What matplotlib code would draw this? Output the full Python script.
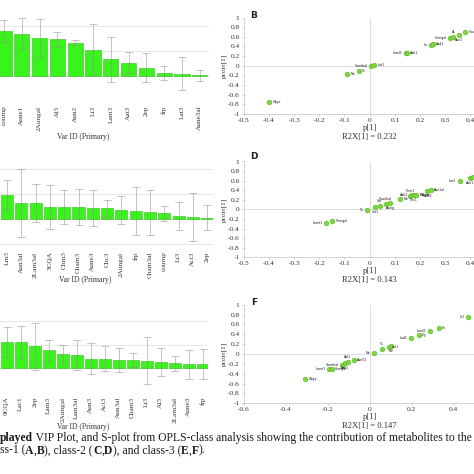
import matplotlib
matplotlib.use("Agg")
import matplotlib.pyplot as plt

# ---------------- data ----------------
a_names = ["coump", "Aune1", "2Aungal", "Al3", "Aun2", "Lt3", "Lam3", "Aat3", "2ep", "frp", "Lat3", "Aune3al"]
a_vip = [1.79, 1.68, 1.50, 1.46, 1.31, 1.04, 0.66, 0.51, 0.32, 0.12, 0.08, 0.02]
a_err = [0.44, 0.63, 0.75, 0.30, 0.10, 1.03, 0.90, 0.42, 0.58, 0.28, 0.66, 0.22]

c_names = ["Lm3", "Aun3al", "2Lam3al", "3CQA", "Chm3", "Cham3", "Aune3", "Chc3", "2Aungal", "frp",
           "Cham3al", "coump", "Lt3", "Aci3", "2ep"]
c_vip = [0.94, 0.63, 0.61, 0.48, 0.47, 0.45, 0.41, 0.41, 0.35, 0.32, 0.25, 0.21, 0.11, 0.07, 0.04]
c_err = [0.61, 1.35, 0.76, 0.88, 0.68, 0.72, 0.72, 0.33, 0.56, 0.96, 0.91, 0.31, 0.57, 0.97, 0.49]

e_names = ["9CQA", "Lac1", "2ep", "Lam3", "2Aungal", "Lam3al", "Aun3", "Aci3", "Aun3al", "Cham3",
           "Lt3", "Al3", "2Lam3al", "Aune3", "frp"]
e_vip = [1.11, 1.09, 0.92, 0.75, 0.60, 0.57, 0.40, 0.40, 0.35, 0.35, 0.31, 0.27, 0.20, 0.16, 0.16]
e_err = [0.63, 0.68, 1.00, 0.45, 0.40, 0.63, 0.67, 0.53, 0.52, 0.29, 1.00, 0.60, 0.33, 0.60, 0.64]

b_p = [-0.398, -0.090, -0.044, 0.005, 0.016, 0.144, 0.148, 0.245, 0.251, 0.320, 0.331, 0.356, 0.380]
b_pcorr = [-0.75, -0.174, -0.104, -0.007, 0.014, 0.255, 0.259, 0.430, 0.444, 0.570, 0.590, 0.646, 0.694]
b_labels = ["Wrga", "Na", "Tu", "Saaribal", "Lat1", "Laml1", "Aab1", "La", "Aad1", "Chmgal", "Al", "Aun1", "Cou"]
b_side = ["r", "r", "r", "l", "r", "l", "r", "l", "r", "l", "t", "b", "r"]

d_p = [-0.172, -0.149, -0.011, 0.020, 0.040, 0.063, 0.082, 0.122, 0.161, 0.168, 0.175, 0.185,
       0.228, 0.243, 0.357, 0.397, 0.410]
d_pcorr = [-0.279, -0.244, -0.021, 0.049, 0.077, 0.118, 0.139, 0.209, 0.272, 0.293, 0.307, 0.307,
           0.376, 0.397, 0.592, 0.662, 0.676]
d_labels = ["Lamt1", "Chmgal", "Tu", "Lat1", "Sar", "Saaribal", "Aiang", "Na", "Chm1", "Aab1", "Chc1",
            "Wrga", "Laml1", "Aun1al", "Lat3", "Aun1", "Cou"]
d_side = ["l", "r", "l", "b", "t", "t", "b", "r", "t", "l", "b", "r", "b", "r", "l", "b", "r"]

f_p = [-0.308, -0.192, -0.181, -0.130, -0.116, -0.105, -0.076, 0.019, 0.059, 0.090, 0.103,
       0.198, 0.233, 0.286, 0.329, 0.468]
f_pcorr = [-0.507, -0.311, -0.297, -0.223, -0.189, -0.169, -0.128, 0.027, 0.095, 0.149, 0.169,
           0.324, 0.378, 0.459, 0.527, 0.757]
f_labels = ["Wrga", "Lamt1", "Chmgal", "Saaribal", "Aab1", "Aal1", "Aun01", "Na", "Tu", "Lat1", "Nd",
            "Lad1", "Fig", "Laml1", "Ch", "Lt1"]
f_side = ["r", "l", "r", "l", "b", "t", "r", "l", "t", "r", "b", "l", "r", "l", "r", "l"]

b_r2x = "R2X[1] = 0.232"
d_r2x = "R2X[1] = 0.143"
f_r2x = "R2X[1] = 0.147"

# ---------------- figure ----------------
W = H = 474
fig = plt.figure(figsize=(4.74, 4.74), dpi=100)
fig.patch.set_facecolor("white")
SERIF = ["Liberation Serif", "DejaVu Serif"]


def add_ax(l, t, r, b):
    return fig.add_axes([l / W, 1 - b / H, (r - l) / W, (b - t) / H])


def ftext(x, y, s, **kw):
    return fig.text(x / W, 1 - y / H, s, **kw)


BAR_C = "#3af21c"
BAR_E = "#2cc214"


def vip_panel(names, vals, errs, c0, step, right, base, bottom_units, width):
    n = len(names)
    xl = -0.6
    xr = (right - c0) / step
    left = c0 + step * xl
    top = base - 2.5 * 25
    bottom = base + bottom_units * 25
    ax = add_ax(left, top, right, bottom)
    idx = list(range(n))
    ax.bar(idx, vals, width=width, color=BAR_C, edgecolor=BAR_E, linewidth=0.4, zorder=2)
    ax.errorbar(idx, vals, yerr=errs, fmt="none", ecolor="#8c8c8c", elinewidth=0.6,
                capsize=2.8, capthick=0.6, alpha=0.6, zorder=3)
    ax.set_xlim(xl, xr)
    ax.set_ylim(-bottom_units, 2.5)
    ax.set_yticks([-1, 0, 1, 2])
    ax.yaxis.grid(True, color="#e4e4e4", linewidth=0.6, zorder=0)
    ax.axhline(0, color="#d0d0d0", linewidth=0.6, zorder=1)
    ax.set_axisbelow(True)
    for s in ax.spines.values():
        s.set_visible(False)
    ax.set_xticks(idx)
    ax.set_xticklabels(names, rotation=90, fontsize=5.2, family=SERIF, color="#3a3a3a")
    ax.tick_params(axis="x", length=0, pad=3.5)
    ax.tick_params(axis="y", length=0, labelleft=False)
    return ax


vip_panel(a_names, a_vip, a_err, 4.0, 17.8, 208.7, 75.7, 1.0, 0.86)
vip_panel(c_names, c_vip, c_err, 7.0, 14.3, 213.0, 218.7, 1.12, 0.84)
vip_panel(e_names, e_vip, e_err, 6.7, 14.0, 208.0, 371.7, 0.8, 0.88)

ftext(83, 137, "Var ID (Primary)", fontsize=5.5, family=SERIF, ha="center", va="center", color="#333333")
ftext(85, 280, "Var ID (Primary)", fontsize=5.5, family=SERIF, ha="center", va="center", color="#333333")
ftext(83, 427, "Var ID (Primary)", fontsize=5.5, family=SERIF, ha="center", va="center", color="#333333")

PT_C = "#7bd63c"
PT_E = "#5fb82a"


def splot(ps, pcs, labels, sides, xlim, xticks, top, bottom, letter, letter_y, p_y, r2x):
    ax = add_ax(243.7, top, 495.7, bottom)
    ax.set_xlim(*xlim)
    ax.set_ylim(-1, 1)
    ax.axhline(0, color="#dddddd", linewidth=0.7, zorder=1)
    ax.axvline(0, color="#dddddd", linewidth=0.7, zorder=1)
    ax.plot(ps, pcs, "o", markersize=3.4, markerfacecolor=PT_C, markeredgecolor=PT_E,
            markeredgewidth=0.4, zorder=3)
    off = {"r": (2.5, 0, "left", "center"), "l": (-2.5, 0, "right", "center"),
           "t": (0, 2.2, "center", "bottom"), "b": (0, -2.2, "center", "top")}
    for x, y, lab, sd in zip(ps, pcs, labels, sides):
        dx, dy, ha, va = off[sd]
        ax.annotate(lab, (x, y), xytext=(dx, dy), textcoords="offset points", fontsize=2.3,
                    ha=ha, va=va, color="#222222", family=["DejaVu Sans"],
                    fontweight="bold" if lab == "Wrga" and letter == "D" else "normal")
    ax.set_xticks(xticks)
    ax.set_xticklabels([("%g" % t) for t in xticks])
    yt = [-1, -0.8, -0.6, -0.4, -0.2, 0, 0.2, 0.4, 0.6, 0.8, 1]
    ax.set_yticks(yt)
    ax.set_yticklabels([("%g" % t) for t in yt])
    for lab in ax.get_xticklabels() + ax.get_yticklabels():
        lab.set_fontsize(5.3)
        lab.set_family(SERIF)
        lab.set_color("#333333")
    ax.tick_params(length=1.5, width=0.4, color="#aaaaaa", pad=1.5)
    for k in ["top", "right"]:
        ax.spines[k].set_visible(False)
    for k in ["left", "bottom"]:
        ax.spines[k].set_color("#cccccc")
        ax.spines[k].set_linewidth(0.6)
    ax.set_facecolor("none")
    mid = (top + bottom) / 2
    ftext(224, mid, "pcorr[1]", rotation=90, fontsize=5.3, family=SERIF, ha="center", va="center",
          color="#333333")
    ftext(254, letter_y, letter, fontsize=6.5, fontweight="bold", family=["DejaVu Sans"],
          ha="center", va="center", color="#222222")
    ftext(369.7, p_y, "p[1]", fontsize=6.2, family=SERIF, ha="center", va="center", color="#333333")
    ftext(369.7, p_y + 9.5, r2x, fontsize=6.2, family=SERIF, ha="center", va="center", color="#333333")
    return ax


splot(b_p, b_pcorr, b_labels, b_side, (-0.5, 0.5),
      [-0.5, -0.4, -0.3, -0.2, -0.1, 0, 0.1, 0.2, 0.3, 0.4, 0.5], 17.6, 113.8, "B", 15, 127.7, b_r2x)
splot(d_p, d_pcorr, d_labels, d_side, (-0.5, 0.5),
      [-0.5, -0.4, -0.3, -0.2, -0.1, 0, 0.1, 0.2, 0.3, 0.4, 0.5], 161.5, 257.3, "D", 156.7, 270.7, d_r2x)
splot(f_p, f_pcorr, f_labels, f_side, (-0.6, 0.6),
      [-0.6, -0.4, -0.2, 0, 0.2, 0.4, 0.6], 304.7, 403.3, "F", 302.7, 416.7, f_r2x)

# ---------------- caption ----------------
line1 = [("played", "bold"),
         (" VIP Plot, and S-plot from OPLS-class analysis showing the contribution of metabolites to the", "normal")]
line2 = [("ss-1 (", "normal"), ("A", "bold"), (",", "normal"), ("B", "bold"), ("), class-2 (", "normal"),
         ("C", "bold"), (",", "normal"), ("D", "bold"), ("), and class-3 (", "normal"), ("E", "bold"),
         (",", "normal"), ("F", "bold"), (").", "normal")]

renderer = fig.canvas.get_renderer()


def draw_line(pieces, y, size, draw=True):
    x = 0.0
    objs = []
    for s, w in pieces:
        t = fig.text(x / W, 1 - y / H, s, fontsize=size, fontweight=w, family=SERIF,
                     ha="left", va="center", color="#1a1a1a")
        bb = t.get_window_extent(renderer=renderer)
        x = bb.x1
        objs.append(t)
    if not draw:
        for t in objs:
            t.remove()
    return x


w10 = draw_line(line2, 450, 10, draw=False)
size = 10 * 206.0 / w10
draw_line(line1, 438.5, size)
draw_line(line2, 450.5, size)

fig.savefig("out.png", dpi=100, facecolor="white")
